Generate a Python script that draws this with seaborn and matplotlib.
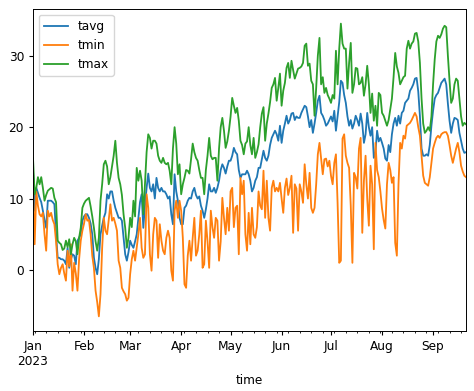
import pandas as pd
import matplotlib
matplotlib.use("Agg")
import matplotlib.pyplot as plt
import matplotlib.dates as mdates
import seaborn as sns

# Daily temperatures, Jan 1 - Sep 21 2023
start_date = "2023-01-01"
tavg = [14.0, 8.3, 11.5, 10.8, 10.1, 9.5, 8.3, 7.0, 5.9, 9.7, 9.7, 9.7, 9.5, 9.2, 5.0, 1.7,
        1.7, 1.5, 1.5, 1.3, 0.8, 3.1, 0.3, 1.5, 2.2, 2.0, 0.8, 4.1, 4.5, 5.0, 6.9,
        7.5, 7.8, 7.8, 7.3, 6.5, 5.0, 1.7, 0.3, -0.6, 1.5, 5.0, 6.2, 7.3, 8.0, 10.6,
        10.0, 11.0, 11.0, 9.7, 8.7, 8.0, 7.3, 7.3, 6.9, 4.5, 2.2, 1.3, 2.5,
        4.1, 3.5, 3.1, 4.0, 5.0, 7.3, 9.5, 10.6, 5.9, 9.0, 11.5, 13.5, 11.5, 11.0, 12.0,
        10.0, 12.9, 11.5, 11.0, 11.5, 11.0, 11.0, 10.6, 10.0, 10.3, 7.8, 6.4, 13.4, 11.0,
        9.7, 7.3,
        6.4, 6.4, 8.7, 9.0, 9.7, 10.1, 10.0, 11.0, 11.5, 10.5, 10.0, 10.3, 9.0, 8.3, 7.3,
        8.5, 10.0, 12.0, 11.0, 11.0, 11.5, 10.8, 11.5, 12.5, 14.0, 14.8, 14.3, 13.5, 14.5,
        15.3,
        15.3, 16.0, 17.1, 16.5, 16.2, 14.0, 12.9, 13.4, 13.4, 13.4, 13.9, 13.4, 12.5, 11.0,
        11.5, 12.5, 13.0, 14.3, 14.3, 15.5, 16.7, 15.7, 15.3, 16.0, 17.5, 18.5, 19.0, 19.5,
        19.0, 18.1, 20.2,
        17.8, 19.5, 20.5, 21.6, 20.5, 21.0, 21.9, 22.0, 21.0, 21.5, 21.3, 21.3, 22.0, 22.5,
        23.0, 22.8, 21.5, 20.0, 21.0, 19.2, 20.5, 22.0, 23.7, 24.4, 22.0, 21.6, 21.0, 20.2,
        20.5, 21.0,
        21.5, 20.8, 22.3, 19.5, 21.5, 23.5, 26.5, 26.2, 24.5, 23.4, 21.5, 20.2, 21.0, 19.8,
        20.5, 21.6, 21.0, 20.2, 21.9, 20.5, 17.8, 19.0, 22.0, 20.0, 18.8, 20.0, 15.7, 16.5,
        19.5, 18.0, 18.5,
        17.8, 17.0, 15.6, 15.3, 17.5, 16.5, 19.0, 20.5, 21.3, 20.2, 21.6, 20.5, 22.0, 22.3,
        23.4, 23.7, 24.0, 25.1, 25.5, 26.0, 26.8, 26.9, 25.0, 21.6, 17.0, 16.0, 16.0, 16.2,
        16.0, 17.5, 20.2,
        22.3, 24.0, 24.5, 24.8, 25.5, 26.2, 26.5, 26.8, 26.0, 23.3, 20.9, 19.2, 20.5, 21.3,
        21.2, 21.0, 19.2, 18.1, 17.0, 16.4, 16.5]

tmin = [11.5, 3.6, 11.0, 9.0, 7.8, 7.5, 8.0, 5.0, 2.7, 8.3, 7.5, 8.0, 7.0, 6.4, 4.0, 0.8,
        -0.6, 0.3, 0.8, -0.5, -1.5, 2.7, 0.5, 3.6, -2.9, 1.0, -0.5, -2.9, 1.5, 4.1, 5.5,
        6.5, 7.8, 6.9, 7.0, 5.0, 2.0, 0.3, -2.9, -4.5, -6.5, -3.4, 3.1, 7.3, 5.5, 5.0,
        7.0, 9.2, 6.9, 7.3, 6.5, 5.5, 1.3, 0.3, -2.5, -3.0, -3.4, -4.3, -3.9,
        -0.6, 1.5, 2.7, 1.3, 3.1, 5.0, 7.3, 3.1, 1.7, 2.2, 10.6, 8.7, 2.2, -0.1, 5.0,
        7.3, 6.9, 1.7, 6.4, 4.1, 2.7, 2.2, 4.5, 5.5, 4.5, -0.1, -1.5, 8.3, 9.7, 7.3, 9.7,
        8.3, 4.5, -2.0, -2.5, 2.0, 4.1, 1.3, 4.5, 7.3, 2.0, 2.7, 5.0, 8.3, 0.3, 0.8,
        6.9, 4.0, 0.3, 8.3, 6.0, 4.5, 7.3, 6.9, 1.3, 4.0, 10.1, 7.3, 5.0, 8.7, 5.5,
        11.0, 11.5, 6.0, 8.7, 9.0, 2.2, 12.9, 10.6, 12.5, 5.0, 2.7, 8.0, 3.6, 8.7,
        5.0, 4.5, 6.0, 11.0, 9.0, 8.5, 13.9, 7.3, 12.5, 7.3, 5.5, 11.5, 12.5, 11.0,
        11.5, 11.0, 12.2,
        10.0, 8.0, 11.5, 12.8, 10.5, 11.5, 13.2, 5.2, 12.0, 11.4, 5.5, 12.0, 11.0, 9.4,
        14.8, 12.0, 10.0, 13.6, 8.7, 8.0, 8.7, 12.0, 16.2, 17.8, 15.6, 13.4, 15.5, 15.6,
        14.5, 15.3,
        13.2, 12.0, 15.0, 16.2, 9.4, 1.0, 1.3, 18.4, 19.0, 16.0, 15.0, 14.3, 9.0, 1.0,
        13.6, 13.0, 11.4, 17.0, 18.5, 5.2, 12.5, 16.0, 10.0, 6.2, 14.6, 12.0, 2.9, 17.8,
        14.0, 13.0, 11.0,
        8.6, 7.0, 5.8, 12.0, 15.0, 14.0, 12.2, 13.0, 3.8, 2.0, 12.0, 17.8, 17.0, 18.8,
        18.4, 20.2, 20.4, 20.6, 21.0, 21.5, 22.0, 21.5, 20.0, 18.8, 16.0, 13.2, 12.2, 12.0,
        11.8, 13.0, 15.0,
        17.0, 17.8, 18.5, 18.8, 18.5, 19.0, 19.2, 19.3, 19.3, 18.8, 17.5, 16.0, 15.0, 16.0,
        17.0, 17.8, 16.5, 14.6, 13.8, 13.2, 13.0]

tmax = [15.7, 10.6, 11.5, 13.0, 12.0, 13.0, 11.5, 9.7, 10.5, 11.1, 11.3, 11.5, 11.4, 10.1,
        9.5, 4.1, 3.8, 3.6, 2.8, 3.0, 4.1, 3.2, 4.3, 2.2, 3.6, 4.5, 4.0, 2.2, 4.5, 5.9, 8.7,
        9.3, 9.7, 9.9, 10.1, 8.9, 7.5, 5.9, 4.0, 2.7, 4.5, 9.7, 12.0, 14.8, 15.3, 14.5,
        12.0, 13.0, 14.5, 16.0, 18.1, 15.0, 12.9, 12.0, 10.5, 7.8, 5.9, 3.1, 4.5,
        7.3, 6.0, 9.7, 7.5, 14.3, 12.5, 13.9, 12.5, 7.8, 12.0, 16.5, 19.0, 18.5, 17.0,
        18.1, 18.1, 17.7, 16.0, 15.3, 15.0, 15.7, 15.0, 14.8, 15.0, 13.9, 12.0, 17.0, 20.0,
        17.7, 13.4, 14.8,
        10.6, 12.0, 12.9, 14.0, 13.9, 13.5, 15.5, 17.7, 16.5, 15.7, 15.3, 14.0, 12.9, 12.9,
        10.6, 14.0, 16.0, 18.5, 16.0, 15.5, 15.7, 15.7, 12.5, 17.0, 20.0, 21.3, 19.5, 17.1,
        18.0, 19.5,
        21.5, 24.1, 23.0, 22.0, 22.7, 20.9, 18.1, 17.5, 16.2, 17.7, 18.0, 20.0, 17.5, 16.2,
        18.5, 15.7, 16.5, 17.6, 20.0, 21.9, 22.8, 18.1, 20.5, 21.9, 23.5, 25.5, 26.0, 26.9,
        23.7, 25.5, 27.5,
        23.0, 25.1, 26.2, 28.3, 29.0, 26.9, 29.3, 28.0, 26.8, 27.5, 28.2, 28.3, 28.5, 29.0,
        31.4, 31.7, 28.6, 28.9, 26.5, 26.0, 21.6, 25.5, 30.0, 32.5, 26.0, 27.0, 24.8, 25.5,
        24.5, 24.0,
        23.4, 24.5, 24.0, 30.7, 26.0, 31.0, 34.5, 31.7, 31.0, 31.0, 25.4, 29.0, 31.8, 24.8,
        26.0, 28.3, 28.2, 26.0, 26.2, 27.0, 24.4, 26.0, 28.6, 26.0, 22.0, 24.7, 20.9, 23.0,
        20.2, 24.8, 24.5,
        22.0, 21.6, 20.9, 20.2, 21.0, 22.5, 24.0, 27.0, 30.4, 28.5, 27.6, 26.0, 26.5, 27.0,
        27.2, 31.0, 32.1, 31.0, 31.7, 32.0, 33.1, 33.2, 32.0, 29.0, 24.0, 20.5, 19.2, 19.5,
        20.0, 19.5, 21.5,
        26.0, 29.5, 32.0, 32.8, 32.5, 33.0, 33.8, 34.2, 34.0, 30.0, 26.5, 23.4, 24.0, 26.0,
        26.8, 26.5, 24.0, 21.5, 20.2, 20.6, 20.4]

series_names = ["tavg", "tmin", "tmax"]

# the reference looks like a default pandas plot shrunk a bit
scale = 0.87
plt.rcParams["font.size"] = 10 * scale
plt.rcParams["xtick.major.size"] = 3.5 * scale
plt.rcParams["ytick.major.size"] = 3.5 * scale
plt.rcParams["xtick.minor.size"] = 2.0 * scale
plt.rcParams["axes.linewidth"] = 0.8 * scale

time = pd.date_range(start_date, periods=len(tavg), freq="D")
df = pd.DataFrame({"time": time, "tavg": tavg, "tmin": tmin, "tmax": tmax})
long_df = df.melt(id_vars="time", value_vars=series_names, var_name="series", value_name="temp")

fig = plt.figure(figsize=(4.74, 3.91), dpi=100)
ax = fig.add_subplot(111)
fig.subplots_adjust(left=33 / 474, right=466 / 474, top=1 - 9 / 391, bottom=1 - 331 / 391)

sns.lineplot(data=long_df, x="time", y="temp", hue="series", hue_order=series_names,
             palette=["#1f77b4", "#ff7f0e", "#2ca02c"], linewidth=1.5 * scale, ax=ax)

# pandas-like date axis: month majors, Monday minors
ax.set_xlim(time[0], time[-1])
ax.xaxis.set_major_locator(mdates.MonthLocator())
ax.xaxis.set_minor_locator(mdates.WeekdayLocator(byweekday=mdates.MO))


def month_fmt(x, pos):
    d = mdates.num2date(x)
    if d.month == 1:
        return d.strftime("%b\n%Y")
    return d.strftime("%b")


ax.xaxis.set_major_formatter(plt.FuncFormatter(month_fmt))
ax.xaxis.set_minor_formatter(plt.NullFormatter())
for lbl in ax.get_xticklabels():
    lbl.set_rotation(0)
    lbl.set_ha("center")

ax.set_xlabel("time")
ax.set_ylabel("")
ax.legend(loc="upper left", title=None)

fig.savefig("out.png", dpi=100)
